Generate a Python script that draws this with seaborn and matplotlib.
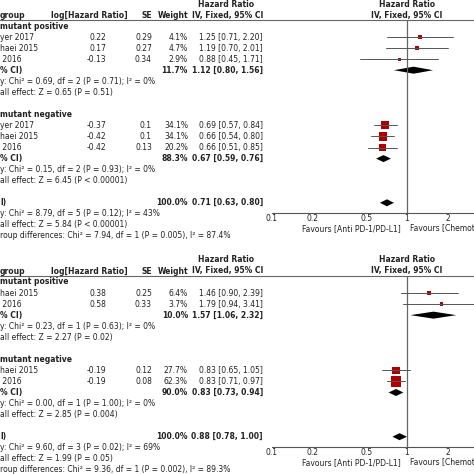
import numpy as np
import pandas as pd
import matplotlib.pyplot as plt
import seaborn as sns

# -----------------------------
# Data
# -----------------------------
p1_pos_names = ["yer 2017", "haei 2015", " 2016"]
p1_pos_loghr = ["0.22", "0.17", "-0.13"]
p1_pos_se = ["0.29", "0.27", "0.34"]
p1_pos_w = [4.1, 4.7, 2.9]
p1_pos_hr = [1.25, 1.19, 0.88]
p1_pos_lo = [0.71, 0.70, 0.45]
p1_pos_hi = [2.20, 2.01, 1.71]
p1_pos_tot = [11.7, 1.12, 0.80, 1.56]
p1_pos_het = "y: Chi² = 0.69, df = 2 (P = 0.71); I² = 0%"
p1_pos_eff = "all effect: Z = 0.65 (P = 0.51)"

p1_neg_names = ["yer 2017", "haei 2015", " 2016"]
p1_neg_loghr = ["-0.37", "-0.42", "-0.42"]
p1_neg_se = ["0.1", "0.1", "0.13"]
p1_neg_w = [34.1, 34.1, 20.2]
p1_neg_hr = [0.69, 0.66, 0.66]
p1_neg_lo = [0.57, 0.54, 0.51]
p1_neg_hi = [0.84, 0.80, 0.85]
p1_neg_tot = [88.3, 0.67, 0.59, 0.76]
p1_neg_het = "y: Chi² = 0.15, df = 2 (P = 0.93); I² = 0%"
p1_neg_eff = "all effect: Z = 6.45 (P < 0.00001)"

p1_all_tot = [100.0, 0.71, 0.63, 0.80]
p1_all_het = "y: Chi² = 8.79, df = 5 (P = 0.12); I² = 43%"
p1_all_eff = "all effect: Z = 5.84 (P < 0.00001)"
p1_sub = "roup differences: Chi² = 7.94, df = 1 (P = 0.005), I² = 87.4%"

p2_pos_names = ["haei 2015", " 2016"]
p2_pos_loghr = ["0.38", "0.58"]
p2_pos_se = ["0.25", "0.33"]
p2_pos_w = [6.4, 3.7]
p2_pos_hr = [1.46, 1.79]
p2_pos_lo = [0.90, 0.94]
p2_pos_hi = [2.39, 3.41]
p2_pos_tot = [10.0, 1.57, 1.06, 2.32]
p2_pos_het = "y: Chi² = 0.23, df = 1 (P = 0.63); I² = 0%"
p2_pos_eff = "all effect: Z = 2.27 (P = 0.02)"

p2_neg_names = ["haei 2015", " 2016"]
p2_neg_loghr = ["-0.19", "-0.19"]
p2_neg_se = ["0.12", "0.08"]
p2_neg_w = [27.7, 62.3]
p2_neg_hr = [0.83, 0.83]
p2_neg_lo = [0.65, 0.71]
p2_neg_hi = [1.05, 0.97]
p2_neg_tot = [90.0, 0.83, 0.73, 0.94]
p2_neg_het = "y: Chi² = 0.00, df = 1 (P = 1.00); I² = 0%"
p2_neg_eff = "all effect: Z = 2.85 (P = 0.004)"

p2_all_tot = [100.0, 0.88, 0.78, 1.00]
p2_all_het = "y: Chi² = 9.60, df = 3 (P = 0.02); I² = 69%"
p2_all_eff = "all effect: Z = 1.99 (P = 0.05)"
p2_sub = "roup differences: Chi² = 9.36, df = 1 (P = 0.002), I² = 89.3%"

ticks = [0.1, 0.2, 0.5, 1, 2, 5, 10]
tick_labels = ["0.1", "0.2", "0.5", "1", "2", "5", "10"]

sns.set_style("white")
plt.rcParams["font.family"] = ["DejaVu Sans"]
FS = 5.5
TXT = "#222222"
RED = "#b00000"

fig = plt.figure(figsize=(4.74, 4.74), dpi=100)
tx = fig.add_axes([0, 0, 1, 1])
tx.set_xlim(0, 474)
tx.set_ylim(474, 0)
tx.axis("off")


def t(x, y, s, ha="left", bold=False):
    tx.text(x, y, s, ha=ha, va="center", fontsize=FS, color=TXT,
            fontweight="bold" if bold else "normal")


def fmt_ci(hr, lo, hi):
    return f"{hr:.2f} [{lo:.2f}, {hi:.2f}]"


def panel(top, groups, all_tot, all_het, all_eff, sub):
    # top = y of header line; rows step 11 px
    step = 11.05
    t(226, top - 16, "Hazard Ratio", ha="center", bold=True)
    t(407, top - 16, "Hazard Ratio", ha="center", bold=True)
    t(0, top - 5, "group", bold=True)
    t(128, top - 5, "log[Hazard Ratio]", ha="right", bold=True)
    t(152, top - 5, "SE", ha="right", bold=True)
    t(188, top - 5, "Weight", ha="right", bold=True)
    t(263, top - 5, "IV, Fixed, 95% CI", ha="right", bold=True)
    t(407, top - 5, "IV, Fixed, 95% CI", ha="center", bold=True)
    tx.plot([0, 474], [top, top], color="#666666", lw=0.8)

    rows = []  # (y, kind, hr, lo, hi, weight)
    k = 0
    y0 = top + 6
    for g in groups:
        label, names, lhr, se, w, hr, lo, hi, tot, het, eff = g
        t(0, y0 + step * k, label, bold=True); k += 1
        for i in range(len(names)):
            y = y0 + step * k
            t(0, y, names[i]); t(106, y, lhr[i], ha="right")
            t(152, y, se[i], ha="right"); t(188, y, f"{w[i]:.1f}%", ha="right")
            t(263, y, fmt_ci(hr[i], lo[i], hi[i]), ha="right")
            rows.append((y, "study", hr[i], lo[i], hi[i], w[i])); k += 1
        y = y0 + step * k
        t(0, y, "% CI)", bold=True)
        t(188, y, f"{tot[0]:.1f}%", ha="right", bold=True)
        t(263, y, fmt_ci(*tot[1:]), ha="right", bold=True)
        rows.append((y, "total", tot[1], tot[2], tot[3], tot[0])); k += 1
        t(0, y0 + step * k, het); k += 1
        t(0, y0 + step * k, eff); k += 2
    y = y0 + step * k
    t(0, y, "l)", bold=True)
    t(188, y, f"{all_tot[0]:.1f}%", ha="right", bold=True)
    t(263, y, fmt_ci(*all_tot[1:]), ha="right", bold=True)
    rows.append((y, "total", all_tot[1], all_tot[2], all_tot[3], all_tot[0])); k += 1
    t(0, y0 + step * k, all_het); k += 1
    t(0, y0 + step * k, all_eff); k += 1
    t(0, y0 + step * k, sub)
    axis_y = y + 10

    ax = fig.add_axes([272 / 474, 1 - axis_y / 474, 270 / 474, (axis_y - top) / 474])
    ax.set_xscale("log")
    ax.set_xlim(0.1, 10)
    ax.set_ylim(axis_y, top)
    ax.patch.set_alpha(0)
    for s in ["left", "top", "right"]:
        ax.spines[s].set_visible(False)
    ax.spines["bottom"].set_color("#555555")
    ax.spines["bottom"].set_linewidth(0.8)
    ax.axvline(1, color="#666666", lw=0.9)
    ax.set_xticks(ticks)
    ax.set_xticklabels(tick_labels, fontsize=FS, color=TXT)
    ax.minorticks_off()
    ax.tick_params(axis="x", direction="in", length=4, width=0.8, pad=1, colors="#555555")
    for lab in ax.get_xticklabels():
        lab.set_color(TXT)
    ax.set_yticks([])

    df = pd.DataFrame(rows, columns=["y", "kind", "hr", "lo", "hi", "w"])
    st = df[df.kind == "study"]
    for _, r in st.iterrows():
        ax.plot([r.lo, r.hi], [r.y, r.y], color="#555555", lw=0.7)
    sns.scatterplot(data=st, x="hr", y="y", size="w", sizes=(2, 60), size_norm=(0, 62),
                    marker="s", color=RED, edgecolor="none", legend=False, ax=ax)
    for _, r in df[df.kind == "total"].iterrows():
        ax.fill([r.lo, r.hr, r.hi, r.hr], [r.y, r.y - 3.5, r.y, r.y + 3.5], color="black", lw=0)
    ax.set_xlabel(""); ax.set_ylabel("")
    t(401, axis_y + 16, "Favours [Anti PD-1/PD-L1]", ha="right")
    t(410, axis_y + 16, "Favours [Chemotherapy]")


panel(20, [("mutant positive", p1_pos_names, p1_pos_loghr, p1_pos_se, p1_pos_w, p1_pos_hr,
            p1_pos_lo, p1_pos_hi, p1_pos_tot, p1_pos_het, p1_pos_eff),
           ("mutant negative", p1_neg_names, p1_neg_loghr, p1_neg_se, p1_neg_w, p1_neg_hr,
            p1_neg_lo, p1_neg_hi, p1_neg_tot, p1_neg_het, p1_neg_eff)],
      p1_all_tot, p1_all_het, p1_all_eff, p1_sub)
panel(276, [("mutant positive", p2_pos_names, p2_pos_loghr, p2_pos_se, p2_pos_w, p2_pos_hr,
             p2_pos_lo, p2_pos_hi, p2_pos_tot, p2_pos_het, p2_pos_eff),
            ("mutant negative", p2_neg_names, p2_neg_loghr, p2_neg_se, p2_neg_w, p2_neg_hr,
             p2_neg_lo, p2_neg_hi, p2_neg_tot, p2_neg_het, p2_neg_eff)],
      p2_all_tot, p2_all_het, p2_all_eff, p2_sub)

fig.savefig("out.png", dpi=100)
